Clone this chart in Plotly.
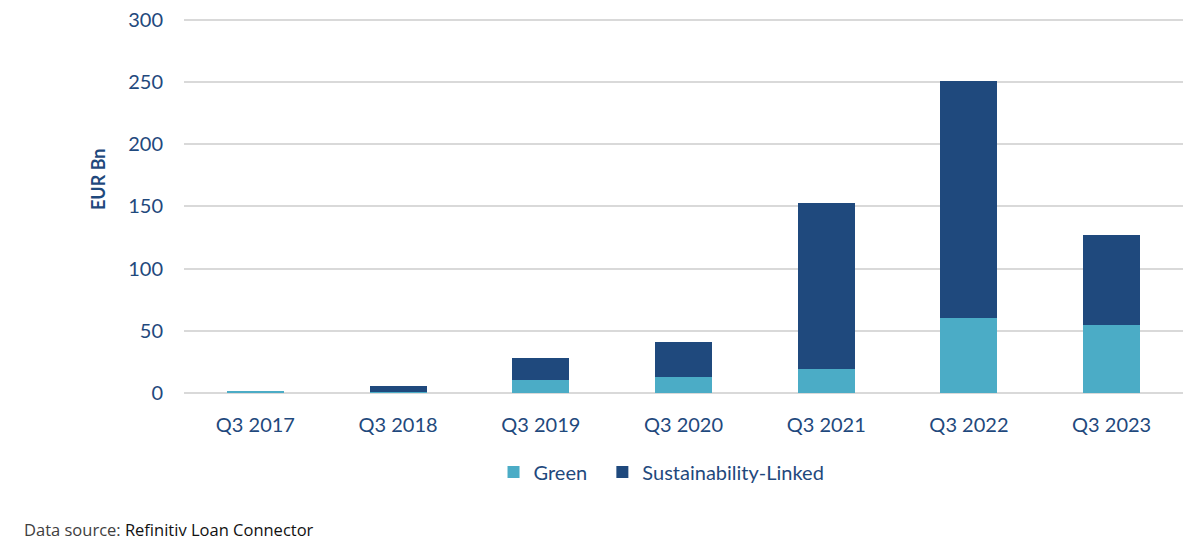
import plotly.graph_objects as go

quarters = ["Q3 2017", "Q3 2018", "Q3 2019", "Q3 2020", "Q3 2021", "Q3 2022", "Q3 2023"]
green = [1.2, 0.8, 10.7, 12.6, 19.5, 60.4, 55.0]
sustainability_linked = [0.0, 4.6, 17.2, 28.5, 133.4, 190.4, 71.7]

y_ticks = [0, 50, 100, 150, 200, 250, 300]

text_blue = "#1F497D"
font_name = "Lato, 'Open Sans', sans-serif"

fig = go.Figure()
fig.add_trace(go.Bar(x=quarters, y=green, name="Green&nbsp;&nbsp;", marker=dict(color="#4BACC6", line=dict(width=0))))
fig.add_trace(go.Bar(x=quarters, y=sustainability_linked, name="Sustainability-Linked",
                     marker=dict(color="#1F497D", line=dict(width=0))))

# the page body adds 8px around the figure, margins make up for it
fig.update_layout(
    barmode="stack",
    bargap=0.6,
    width=1200,
    height=550,
    margin=dict(l=176, r=25, t=10, b=165, autoexpand=False),
    paper_bgcolor="white",
    plot_bgcolor="white",
    font=dict(family=font_name, size=20, color=text_blue),
    showlegend=True,
    legend=dict(orientation="h", x=0.478, xanchor="center", y=-79 / 375, yanchor="middle",
                font=dict(size=20, color=text_blue), itemwidth=30, traceorder="normal"),
)
fig.update_xaxes(showgrid=False, showline=False, ticks="", tickfont=dict(size=20, color=text_blue),
                 ticklabelstandoff=18, automargin=False)
fig.update_yaxes(range=[0, 301.5], tickvals=y_ticks, showgrid=True, gridcolor="#D9D9D9", gridwidth=1.5,
                 zeroline=True, zerolinecolor="#D9D9D9", zerolinewidth=1.5, showline=False,
                 tickfont=dict(size=20, color=text_blue), ticklabelstandoff=20, ticklabeloverflow="allow",
                 automargin=False)

# axis title sits a bit above the middle of the plot
fig.add_annotation(xref="paper", yref="paper", x=-86 / 999, y=214 / 375, text="<b>EUR Bn</b>",
                   textangle=-90, showarrow=False, xanchor="center", yanchor="middle",
                   font=dict(size=18, color=text_blue))
fig.add_annotation(
    xref="paper", yref="paper", x=-162 / 999, y=-136 / 375, xanchor="left", yanchor="middle",
    text="<span style='color:#404040'>Data source: </span>Refinitiv Loan Connector",
    showarrow=False, font=dict(family="'Open Sans', sans-serif", size=16.5, color="#111111"),
)

fig.write_html("out.html")
